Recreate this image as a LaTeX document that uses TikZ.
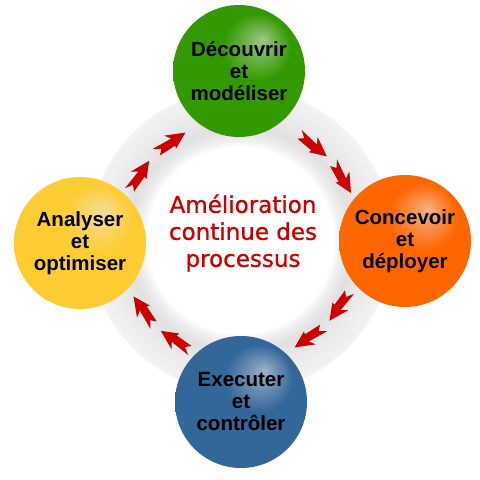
\documentclass[tikz,border=0pt]{standalone}
\usepackage{fontspec}
\setmainfont{DejaVu Sans}
\newfontfamily\labelfont{Liberation Sans}
\newfontfamily\centerfont[FakeBold=0.8]{DejaVu Sans}
\definecolor{cgreen}{HTML}{339900}
\definecolor{corange}{HTML}{FF6600}
\definecolor{cyellow}{HTML}{FFCC33}
\definecolor{cblue}{HTML}{336699}
\definecolor{cred}{HTML}{CC0000}
\definecolor{ballcol}{HTML}{339900}
\pgfdeclareradialshading{ringshade}{\pgfpoint{0bp}{0bp}}{%
  color(0bp)=(white); color(15.2bp)=(white); color(16.3bp)=(black!6);
  color(18.3bp)=(black!12); color(20.5bp)=(black!9); color(23.5bp)=(black!6);
  color(24.7bp)=(black!5); color(25bp)=(white); color(50bp)=(white)}
\pgfdeclareradialshading[ballcol]{glossball}{\pgfpoint{9bp}{12bp}}{%
  color(0bp)=(ballcol!45!white!88!gray); color(4bp)=(ballcol!65!white!94!gray);
  color(13bp)=(ballcol); color(50bp)=(ballcol)}
\tikzset{
  ball/.style={circle, minimum size=132pt, inner sep=0pt, shading=glossball,
    align=center, font=\labelfont\fontsize{20.5}{22}\selectfont\bfseries, text=black},
  arrowshape/.style={fill=cred},
  centertext/.style={align=center, text=cred, font=\centerfont\fontsize{23}{27}\selectfont}
}
\begin{document}
\begin{tikzpicture}[x=1pt,y=1pt]
\useasboundingbox (0,0) rectangle (480,480);
\coordinate (c) at (240,240);
\shade[shading=ringshade] (c) circle (153);
% arrows
\begin{scope}[shift={(240,240)}]
\foreach \a in {53,32,-33,-54,-122,-143,148,126}{
  \fill[arrowshape, shift={(\a:119)}, rotate=\a-90]
    (19,0) -- (0,10) -- (4,3.5) -- (-17,6) -- (-10,1) -- (-15,-3.5)
    -- (3,-4.5) -- (2,-7.5) -- cycle;
}
\end{scope}
\begin{scope}\colorlet{ballcol}{cgreen}
\node[ball] (disc) at (239,409) {Découvrir\\et\\modéliser};
\end{scope}
\begin{scope}\colorlet{ballcol}{corange}
\node[ball] (conc) at (405,239) {Concevoir\\et\\déployer};
\end{scope}
\begin{scope}\colorlet{ballcol}{cblue}
\node[ball] (exec) at (241,78) {Executer\\et\\contrôler};
\end{scope}
\begin{scope}\colorlet{ballcol}{cyellow}
\node[ball] (anal) at (80,237) {Analyser\\et\\optimiser};
\end{scope}
\node[centertext] (center) at (243,247) {Amélioration\\continue des\\processus};
\end{tikzpicture}
\end{document}
